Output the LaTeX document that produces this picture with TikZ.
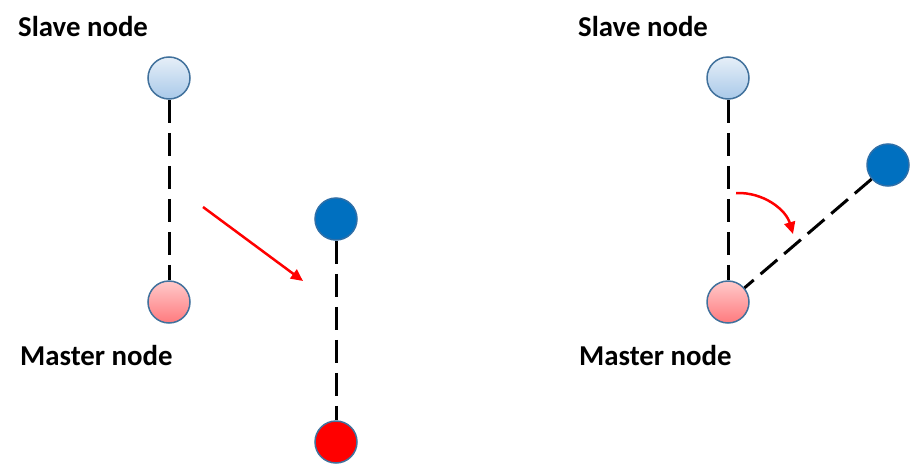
\documentclass[tikz,border=0pt]{standalone}
\usepackage{fontspec}
\setmainfont{Carlito}
\usetikzlibrary{arrows.meta}
\definecolor{nodeedge}{HTML}{41719C}
\definecolor{slavetop}{HTML}{E6EFF8}
\definecolor{slavebot}{HTML}{A9C9E9}
\definecolor{mastertop}{HTML}{FFCACA}
\definecolor{masterbot}{HTML}{FF7A7E}
\definecolor{solidblue}{HTML}{0070C0}
\definecolor{solidblueedge}{HTML}{2E6FA8}
\definecolor{solidred}{HTML}{FF0000}
\tikzset{
  ball/.style={circle, minimum size=42pt, inner sep=0pt, line width=1.5pt},
  slaveball/.style={ball, draw=nodeedge, top color=slavetop, bottom color=slavebot},
  masterball/.style={ball, draw=nodeedge, top color=mastertop, bottom color=masterbot},
  blueball/.style={ball, draw=solidblueedge, fill=solidblue},
  redball/.style={ball, draw=nodeedge, fill=solidred},
  link/.style={line width=3pt, dash pattern=on 23pt off 10pt},
  slantlink/.style={line width=3pt, dash pattern=on 22pt off 9pt},
  movearrow/.style={draw=solidred, line width=2.5pt, -{Triangle[length=12pt,width=11pt]}},
  label/.style={font=\bfseries\fontsize{28.8pt}{30pt}\selectfont, anchor=base west, inner sep=0pt},
}
\begin{document}
\begin{tikzpicture}[x=1pt,y=-1pt]
\useasboundingbox (0,0) rectangle (911,466);
% left panel
\node[label] (ls) at (18,36.7) {Slave node};
\node[label] (lm) at (20,365.7) {Master node};
\node[slaveball] (s1) at (169,78) {};
\node[masterball] (m1) at (169,302) {};
\node[blueball] (b1) at (336,219) {};
\node[redball] (r1) at (336,442) {};
\draw[link] (s1) -- (m1);
\draw[link] (b1) -- (r1);
\coordinate (a1s) at (203,207);
\coordinate (a1e) at (303,281);
\draw[movearrow] (a1s) -- (a1e);
% right panel
\node[label] (rs) at (578,36.7) {Slave node};
\node[label] (rm) at (579,365.7) {Master node};
\node[slaveball] (s2) at (728,78) {};
\node[masterball] (m2) at (728,302) {};
\node[blueball] (b2) at (888,165) {};
\draw[link] (s2) -- (m2);
\draw[slantlink] (b2) -- (m2);
\coordinate (a2s) at (736,193);
\coordinate (a2e) at (793,234);
\draw[movearrow] (a2s) .. controls (764,192) and (786,210) .. (a2e);
\end{tikzpicture}
\end{document}
